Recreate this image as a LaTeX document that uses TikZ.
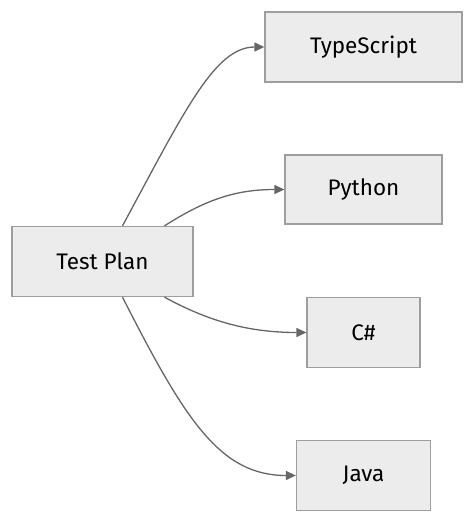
\documentclass[tikz,border=0pt]{standalone}
\usepackage{fontspec}
\setmainfont{Fira Sans}
\usetikzlibrary{arrows.meta}
\definecolor{boxfill}{HTML}{ECECEC}
\definecolor{boxline}{HTML}{9E9E9E}
\definecolor{edgecol}{HTML}{666666}
\begin{document}
\begin{tikzpicture}[x=1pt,y=-1pt,
  box/.style={draw=boxline,fill=boxfill,line width=1.3pt,inner sep=0pt,font=\fontsize{22.5}{26}\selectfont,text=black},
  edge/.style={draw=edgecol,line width=1.3pt,-{Triangle[length=10pt,width=9pt]}}]
\useasboundingbox (0,0) rectangle (474,523);
\node[box,minimum width=181pt,minimum height=70pt] (tp) at (102.5,261.5) {Test Plan};
\node[box,minimum width=197pt,minimum height=70pt] (ts) at (363.5,47) {TypeScript};
\node[box,minimum width=157pt,minimum height=69pt] (py) at (363.5,189.5) {Python};
\node[box,minimum width=113pt,minimum height=70pt] (cs) at (363.5,332.5) {C\#};
\node[box,minimum width=134pt,minimum height=70pt] (ja) at (363.5,475.5) {Java};
\draw[edge] ([xshift=20pt]tp.north) .. controls (185,110) and (215,47) .. (ts.west);
\draw[edge] ([xshift=62pt]tp.north) .. controls (205,200) and (235,189.5) .. (py.west);
\draw[edge] ([xshift=62pt]tp.south) .. controls (210,322) and (250,332.5) .. (cs.west);
\draw[edge] ([xshift=20pt]tp.south) .. controls (185,420) and (220,475.5) .. (ja.west);
\end{tikzpicture}
\end{document}
